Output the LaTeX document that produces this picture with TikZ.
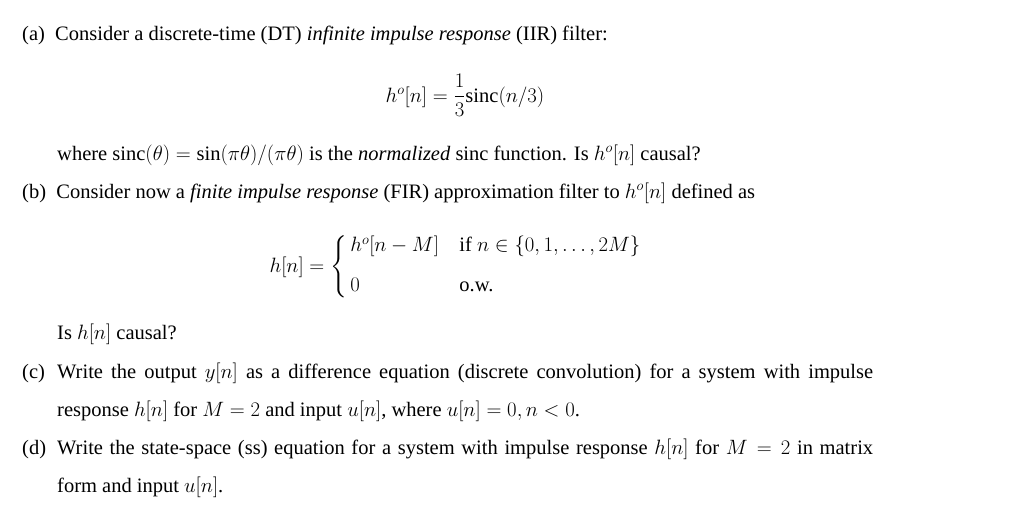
\documentclass[tikz,border=0pt]{standalone}
\usepackage{amsmath}
\usepackage{fontspec}
\setmainfont{Liberation Serif}
\begin{document}
\begin{tikzpicture}[x=1pt,y=-1pt,
  txt/.style={anchor=base west,inner sep=0pt,font=\fontsize{20.5}{24}\selectfont}]
\useasboundingbox (0,0) rectangle (1012,515);
\node[txt] (a) at (22,40) {(a)\ \ Consider a discrete-time (DT) \textit{infinite impulse response} (IIR) filter:};
\node[txt,anchor=base] (eq) at (465,102) {$h^o[n]=\dfrac{1}{3}\mathrm{sinc}(n/3)$};
\node[txt] (w) at (57,160) {where $\mathrm{sinc}(\theta)=\sin(\pi\theta)/(\pi\theta)$ is the \textit{normalized} sinc function. Is $h^o[n]$ causal?};
\node[txt] (b) at (22,198) {(b)\ \ Consider now a \textit{finite impulse response} (FIR) approximation filter to $h^o[n]$ defined as};
\node[txt,anchor=base] (pw) at (458,272) {$h[n]=\left\{\begin{array}{@{\,}l@{\quad}l}h^o[n-M] & \text{if } n\in\{0,1,\ldots,2M\}\\[16pt] 0 & \text{o.w.}\end{array}\right.$};
\node[txt] (is) at (57,339) {Is $h[n]$ causal?};
\node[txt] (cl) at (22,378) {(c)};
\node[txt] (c1) at (57,378) {\hbox to 816pt{Write the output $y[n]$ as a difference equation (discrete convolution) for a system with impulse}};
\node[txt] (c2) at (57,416) {response $h[n]$ for $M=2$ and input $u[n]$, where $u[n]=0,n<0$.};
\node[txt] (dl) at (22,454) {(d)};
\node[txt] (d1) at (57,454) {\hbox to 816pt{Write the state-space (ss) equation for a system with impulse response $h[n]$ for $M=2$ in matrix}};
\node[txt] (d2) at (57,492) {form and input $u[n]$.};
\end{tikzpicture}
\end{document}
